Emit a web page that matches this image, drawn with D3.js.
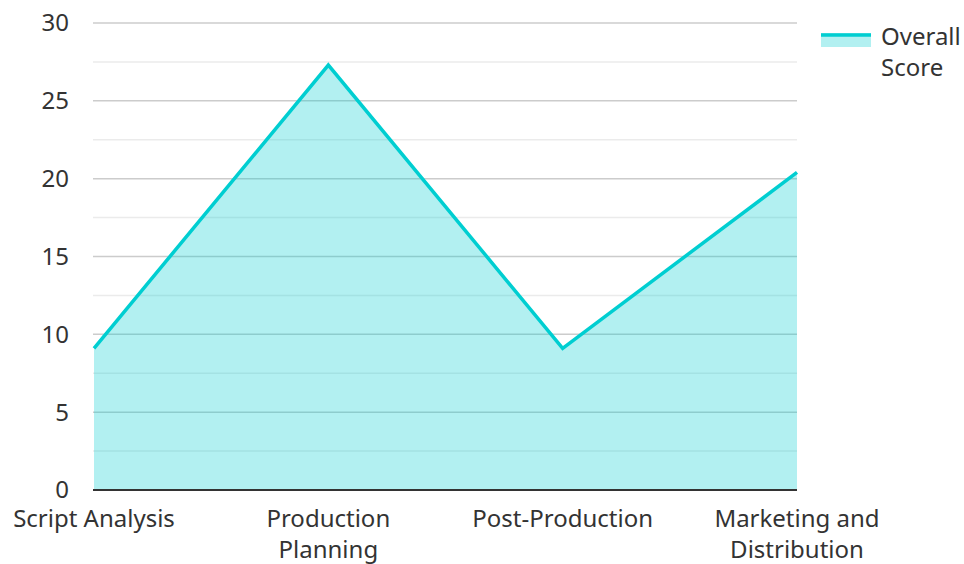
<!DOCTYPE html>
<html><head><meta charset="utf-8">
<script src="https://cdn.jsdelivr.net/npm/d3@7"></script>
<style>body{margin:0;background:#fff;} text{font-family:"Noto Sans","Open Sans",sans-serif;fill:#333;}</style>
</head><body>
<svg id="c" width="964" height="564"></svg>
<script>
const categories = ["Script Analysis", "Production Planning", "Post-Production", "Marketing and Distribution"];
const categoryLines = [["Script Analysis"], ["Production", "Planning"], ["Post-Production"], ["Marketing and", "Distribution"]];
const overallScore = [9.1, 27.3, 9.1, 20.4];
const yTicks = [0, 5, 10, 15, 20, 25, 30];
const yMinorTicks = [2.5, 7.5, 12.5, 17.5, 22.5, 27.5];
const seriesName = ["Overall", "Score"];

const svg = d3.select("#c");
const L = 94, R = 797, T = 23, B = 490;
const FS = 24;
const x = d3.scalePoint().domain(categories).range([L, R]).padding(0);
const y = d3.scaleLinear().domain([0, 30]).range([B, T]);
const color = "#00CED1";

svg.append("g").selectAll("line").data(yMinorTicks).join("line")
  .attr("x1", L - 1).attr("x2", R).attr("y1", d => y(d)).attr("y2", d => y(d))
  .attr("stroke", "#ebebeb").attr("stroke-width", 1.5);
svg.append("g").selectAll("line").data(yTicks.filter(d => d > 0)).join("line")
  .attr("x1", L - 1).attr("x2", R).attr("y1", d => y(d)).attr("y2", d => y(d))
  .attr("stroke", "#cccccc").attr("stroke-width", 1.5);

const area = d3.area().x((d, i) => x(categories[i])).y0(y(0)).y1(d => y(d));
svg.append("path").datum(overallScore).attr("d", area)
  .attr("fill", color).attr("fill-opacity", 0.3);
const line = d3.line().x((d, i) => x(categories[i])).y(d => y(d));
svg.append("path").datum(overallScore).attr("d", line)
  .attr("fill", "none").attr("stroke", color).attr("stroke-width", 3.5).attr("stroke-linejoin", "miter");

svg.append("line").attr("x1", L - 1).attr("x2", R).attr("y1", y(0)).attr("y2", y(0))
  .attr("stroke", "#333").attr("stroke-width", 2);

svg.append("g").selectAll("text").data(yTicks).join("text")
  .attr("x", 69).attr("y", d => y(d)).attr("dy", "0.35em")
  .attr("text-anchor", "end").attr("font-size", FS).text(d => d);

const xl = svg.append("g").selectAll("text").data(categories).join("text")
  .attr("x", d => x(d)).attr("y", 527).attr("text-anchor", "middle").attr("font-size", FS);
xl.each(function(d, i) {
  const t = d3.select(this);
  categoryLines[i].forEach((s, j) => {
    t.append("tspan").attr("x", x(d)).attr("dy", j === 0 ? 0 : 31).text(s);
  });
});

const lg = svg.append("g");
lg.append("rect").attr("x", 821).attr("y", 33).attr("width", 50).attr("height", 14)
  .attr("fill", color).attr("fill-opacity", 0.3);
lg.append("line").attr("x1", 821).attr("x2", 871).attr("y1", 35).attr("y2", 35)
  .attr("stroke", color).attr("stroke-width", 3.5);
lg.append("text").attr("x", 881).attr("y", 45).attr("font-size", FS)
  .selectAll("tspan").data(seriesName).join("tspan")
  .attr("x", 881).attr("dy", (d, i) => i === 0 ? 0 : 31).text(d => d);
</script>
</body></html>
